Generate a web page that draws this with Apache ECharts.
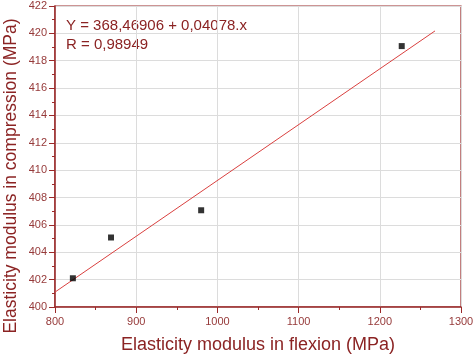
<!DOCTYPE html>
<html><head><meta charset="utf-8">
<script src="https://cdn.jsdelivr.net/npm/echarts@6/dist/echarts.min.js"></script>
<style>html,body{margin:0;padding:0;background:#fff}#c{width:474px;height:359px}</style>
</head><body><div id="c"></div>
<script>
const pointsX = [822, 869, 980, 1227];
const pointsY = [402.1, 405.08, 407.07, 419.07];
const fitX = [800, 1268];
const fitY = [401.09, 420.18];
const equationText = ['Y = 368,46906 + 0,04078.x', 'R = 0,98949'];
const xTitle = 'Elasticity modulus in flexion (MPa)';
const yTitle = 'Elasticity modulus in compression (MPa)';

const axisColor = '#9b2a2a';
const textColor = '#8b2323';
const labelColor = '#963a3a';
const font = '"Liberation Sans", Arial, sans-serif';
const chart = echarts.init(document.getElementById('c'));
chart.setOption({
  animation: false,
  grid: {left: 55, right: 13, top: 6, bottom: 52, show: true, borderColor: axisColor, borderWidth: 1.2,
         containLabel: false, outerBoundsMode: 'none'},
  xAxis: {
    type: 'value', min: 800, max: 1300, interval: 100,
    name: xTitle, nameLocation: 'middle', nameGap: 29, nameMoveOverlap: false,
    nameTextStyle: {color: textColor, fontSize: 18, fontFamily: font},
    axisLine: {lineStyle: {color: axisColor, width: 1.5}},
    axisTick: {show: true, inside: false, length: 6, lineStyle: {color: axisColor}},
    minorTick: {show: true, splitNumber: 2, length: 3, lineStyle: {color: axisColor}},
    axisLabel: {color: labelColor, fontSize: 11, fontFamily: font, margin: 9, formatter: v => String(v)},
    splitLine: {show: true, lineStyle: {color: '#dcdcdc', width: 1}}
  },
  yAxis: {
    type: 'value', min: 400, max: 422, interval: 2,
    axisLine: {show: true, lineStyle: {color: axisColor, width: 1.5}},
    axisTick: {show: true, inside: false, length: 6, lineStyle: {color: axisColor}},
    minorTick: {show: true, splitNumber: 2, length: 3, lineStyle: {color: axisColor}},
    axisLabel: {color: labelColor, fontSize: 11, fontFamily: font, margin: 8, formatter: v => String(v)},
    splitLine: {show: true, lineStyle: {color: '#dcdcdc', width: 1}}
  },
  series: [
    {type: 'line', data: fitX.map((x, i) => [x, fitY[i]]), symbol: 'none',
     lineStyle: {color: '#d9403f', width: 1}, z: 2},
    {type: 'scatter', data: pointsX.map((x, i) => [x, pointsY[i]]), symbol: 'rect', symbolSize: 6,
     itemStyle: {color: '#000'}, z: 3}
  ],
  graphic: [
    {type: 'text', x: 11, y: 176, rotation: Math.PI / 2,
     style: {text: yTitle, fill: textColor, fontSize: 17.5, fontFamily: font, align: 'center', verticalAlign: 'middle'}},
    {type: 'text', left: 66, top: 18, style: {text: equationText[0], fill: textColor, fontSize: 15, fontFamily: font}},
    {type: 'text', left: 66, top: 37, style: {text: equationText[1], fill: textColor, fontSize: 15, fontFamily: font}}
  ]
});
</script></body></html>
